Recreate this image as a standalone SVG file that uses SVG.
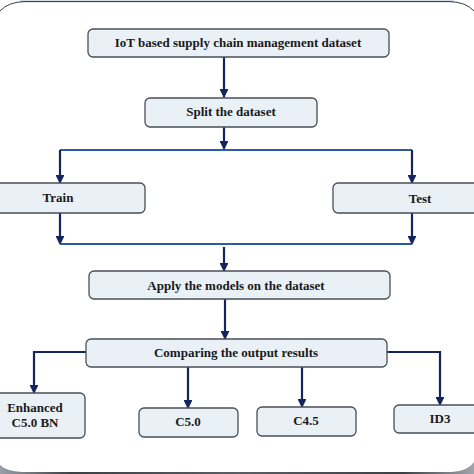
<svg xmlns="http://www.w3.org/2000/svg" width="474" height="474" viewBox="0 0 474 474">
<defs>
<style>
.box{fill:#e9f1f7;stroke:#4a4f57;stroke-width:1.3}
.t{font-family:"Liberation Serif","Times New Roman",serif;font-weight:bold;font-size:13px;fill:#1a1a1a;text-anchor:middle}
.c{fill:none;stroke:#14245e;stroke-width:2.2}
.h{fill:none;stroke:#2a5aa8;stroke-width:1.8}
</style>
<marker id="ah" viewBox="0 0 10 10" refX="9" refY="5" markerWidth="4" markerHeight="4" orient="auto" markerUnits="strokeWidth">
<path d="M0,0 L10,5 L0,10 z" fill="#14245e"/>
</marker>
<linearGradient id="bg" x1="0" y1="0" x2="1" y2="0">
<stop offset="0" stop-color="#9aa0a8"/>
<stop offset="0.15" stop-color="#3c3f44"/>
<stop offset="0.5" stop-color="#5a5e66"/>
<stop offset="0.85" stop-color="#3c3f44"/>
<stop offset="1" stop-color="#a0a6ae"/>
</linearGradient>
</defs>
<rect width="474" height="474" fill="#ffffff"/>
<g id="frame">
<rect x="20" y="0" width="434" height="2.5" fill="#d6dee8"/>
<path d="M0,11 Q8,2 25,1.5 L449,1.5 Q466,2 474,11" fill="none" stroke="#3a3d42" stroke-width="1"/>
<path d="M0,465 Q6,471 22,472 L452,472 Q468,471 474,462 L474,474 L0,474 z" fill="url(#bg)"/>
</g>
<g id="connectors">
<line class="c" x1="224" y1="57" x2="224" y2="97" marker-end="url(#ah)"/>
<line class="c" x1="224" y1="127" x2="224" y2="149" marker-end="url(#ah)"/>
<line class="h" x1="60" y1="150" x2="412" y2="150"/>
<line class="c" x1="60" y1="150" x2="60" y2="183" marker-end="url(#ah)"/>
<line class="c" x1="412" y1="150" x2="412" y2="183" marker-end="url(#ah)"/>
<line class="c" x1="60" y1="213" x2="60" y2="244" marker-end="url(#ah)"/>
<line class="c" x1="412" y1="213" x2="412" y2="244" marker-end="url(#ah)"/>
<line class="h" x1="60" y1="244" x2="412" y2="244"/>
<line class="c" x1="224" y1="247" x2="224" y2="271" marker-end="url(#ah)"/>
<line class="c" x1="225" y1="299" x2="225" y2="339" marker-end="url(#ah)"/>
<polyline class="c" points="86,352 34,352 34,393" marker-end="url(#ah)"/>
<line class="c" x1="188" y1="367" x2="188" y2="408" marker-end="url(#ah)"/>
<line class="c" x1="302" y1="367" x2="302" y2="407" marker-end="url(#ah)"/>
<polyline class="c" points="387,352 440,352 440,405" marker-end="url(#ah)"/>
</g>
<g id="n-dataset"><rect class="box" x="88" y="29" width="301" height="28" rx="5"/><text class="t" x="238" y="46.5">IoT based supply chain management dataset</text></g>
<g id="n-split"><rect class="box" x="145" y="98" width="172" height="29" rx="5"/><text class="t" x="231" y="115.5">Split the dataset</text></g>
<g id="n-train"><rect class="box" x="-6" y="183" width="151" height="30" rx="5"/><text class="t" x="58" y="202">Train</text></g>
<g id="n-test"><rect class="box" x="333" y="183" width="150" height="30" rx="5"/><text class="t" x="420" y="203">Test</text></g>
<g id="n-apply"><rect class="box" x="89" y="271" width="301" height="28" rx="5"/><text class="t" x="236" y="289.5">Apply the models on the dataset</text></g>
<g id="n-compare"><rect class="box" x="86" y="339" width="301" height="28" rx="5"/><text class="t" x="236" y="357">Comparing the output results</text></g>
<g id="n-enhanced"><rect class="box" x="-6" y="393" width="91" height="45" rx="5"/><text class="t" x="35" y="412">Enhanced</text><text class="t" x="35" y="427">C5.0 BN</text></g>
<g id="n-c50"><rect class="box" x="139" y="408" width="99" height="29" rx="5"/><text class="t" x="188" y="426">C5.0</text></g>
<g id="n-c45"><rect class="box" x="257" y="407" width="99" height="29" rx="5"/><text class="t" x="306" y="425">C4.5</text></g>
<g id="n-id3"><rect class="box" x="394" y="405" width="86" height="28" rx="5"/><text class="t" x="440" y="423">ID3</text></g>
</svg>
